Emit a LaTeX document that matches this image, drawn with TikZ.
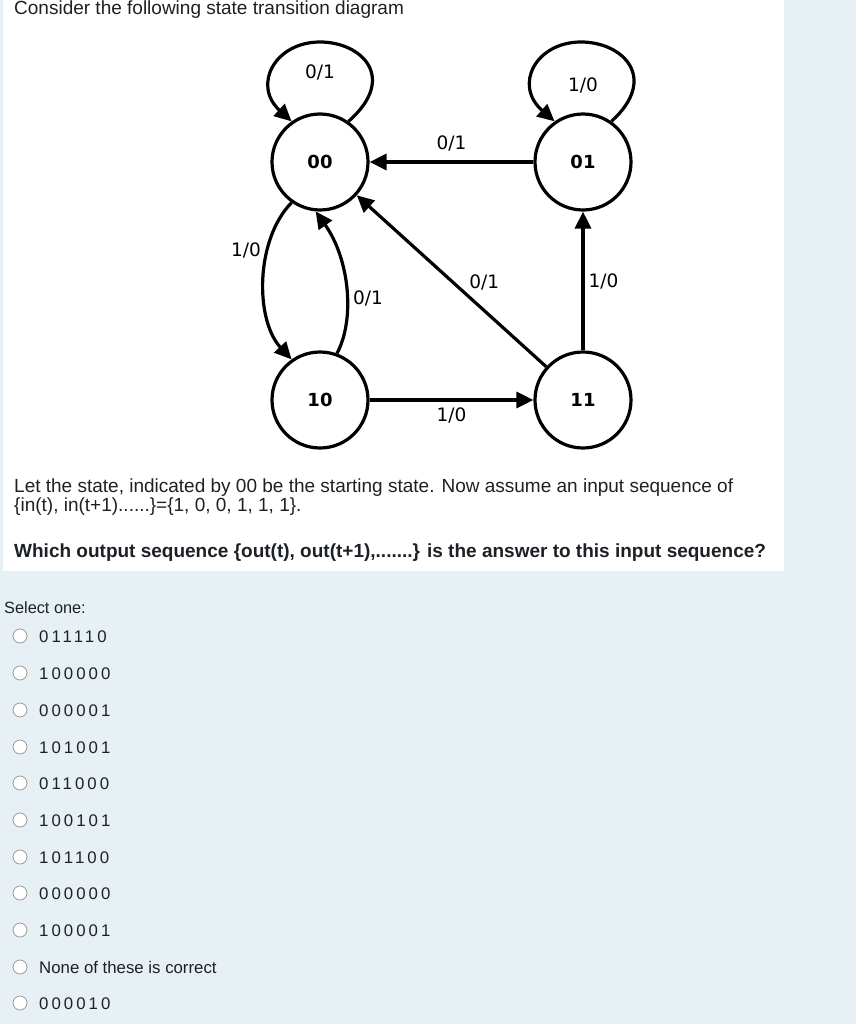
\documentclass[tikz,border=0pt]{standalone}
\usepackage{fontspec}
\setmainfont{Liberation Sans}
\newfontfamily\djfont{DejaVu Sans}
\newfontfamily\spacedfont[LetterSpace=18]{Liberation Sans}
\usetikzlibrary{arrows.meta}
\definecolor{bgc}{HTML}{E7F0F4}
\definecolor{txt}{HTML}{1D2125}
\tikzset{
  st/.style={circle,draw,line width=3.2pt,minimum size=96pt,inner sep=0pt,font=\djfont\bfseries\fontsize{18}{20}\selectfont},
  tr/.style={line width=3.2pt,-{Triangle[length=17pt,width=16pt]}},
  lb/.style={font=\djfont\fontsize{18.5}{20}\selectfont,inner sep=1pt},
  qt/.style={anchor=base west,inner sep=0pt,text=txt,font=\fontsize{19}{22}\selectfont},
  opt/.style={anchor=base west,inner sep=0pt,text=txt,font=\spacedfont\fontsize{16.8}{19}\selectfont},
  radio/.style={circle,draw=gray!80,fill=white,line width=0.8pt,minimum size=14pt,inner sep=0pt}
}
\begin{document}
\begin{tikzpicture}[x=1pt,y=-1pt]
\useasboundingbox (0,0) rectangle (856,1024);
\fill[bgc] (0,0) rectangle (856,1024);
\fill[white] (3,0) rectangle (784,571);
\node[qt] (t1) at (14,15) {Consider the following state transition diagram};
% states
\node[st] (s00) at (320,162) {00};
\node[st] (s01) at (583,162) {01};
\node[st] (s10) at (320,400) {10};
\node[st] (s11) at (583,400) {11};
% self loops
\draw[tr] (s00.55) .. controls (398,78) and (362,42) .. (320,42) .. controls (275,42) and (252,85) .. (s00.125);
\node[lb] (l00) at (320,72) {0/1};
\draw[tr] (s01.55) .. controls (659,78) and (623,42) .. (581,42) .. controls (536,42) and (513,85) .. (s01.125);
\node[lb] (l01) at (583,85) {1/0};
% edges
\draw[tr] (s01) -- node[lb,above=8pt] {0/1} (s00);
\draw[tr] (s10) -- node[lb,below=5pt] {1/0} (s11);
\draw[tr] (s11) -- node[lb,right=3pt,pos=0.5] {1/0} (s01);
\draw[tr] (s11) -- node[lb,above right=2pt,pos=0.42,xshift=-2pt] {0/1} (s00);
\draw[tr] (s00.235) .. controls (255,240) and (255,320) .. (s10.125);
\node[lb] (l1) at (246,250) {1/0};
\draw[tr] (s10.70) .. controls (355,320) and (350,260) .. (s00.265);
\node[lb] (l2) at (368,298) {0/1};
% question text
\node[qt] (t2) at (14,492) {Let the state, indicated by 00 be the starting state. Now assume an input sequence of};
\node[qt] (t3) at (14,511) {\{in(t), in(t+1)......\}=\{1, 0, 0, 1, 1, 1\}.};
\node[qt,font=\bfseries\fontsize{19}{22}\selectfont] (t4) at (14,557) {Which output sequence \{out(t), out(t+1),.......\} is the answer to this input sequence?};
\node[qt,font=\fontsize{16.3}{19}\selectfont] (sel) at (4,613) {Select one:};
\foreach \y/\t [count=\i] in {636/011110,673/100000,710/000001,747/101001,783/011000,820/100101,857/101100,893/000000,930/100001,1003/000010}{
  \node[radio] (r\i) at (20,\y) {};
  \node[opt] (o\i) at (39,\y+6) {\t};
}
\node[radio] (rn) at (20,967) {};
\node[qt,font=\fontsize{16.8}{19}\selectfont] (on) at (39,973) {None of these is correct};
\end{tikzpicture}
\end{document}
